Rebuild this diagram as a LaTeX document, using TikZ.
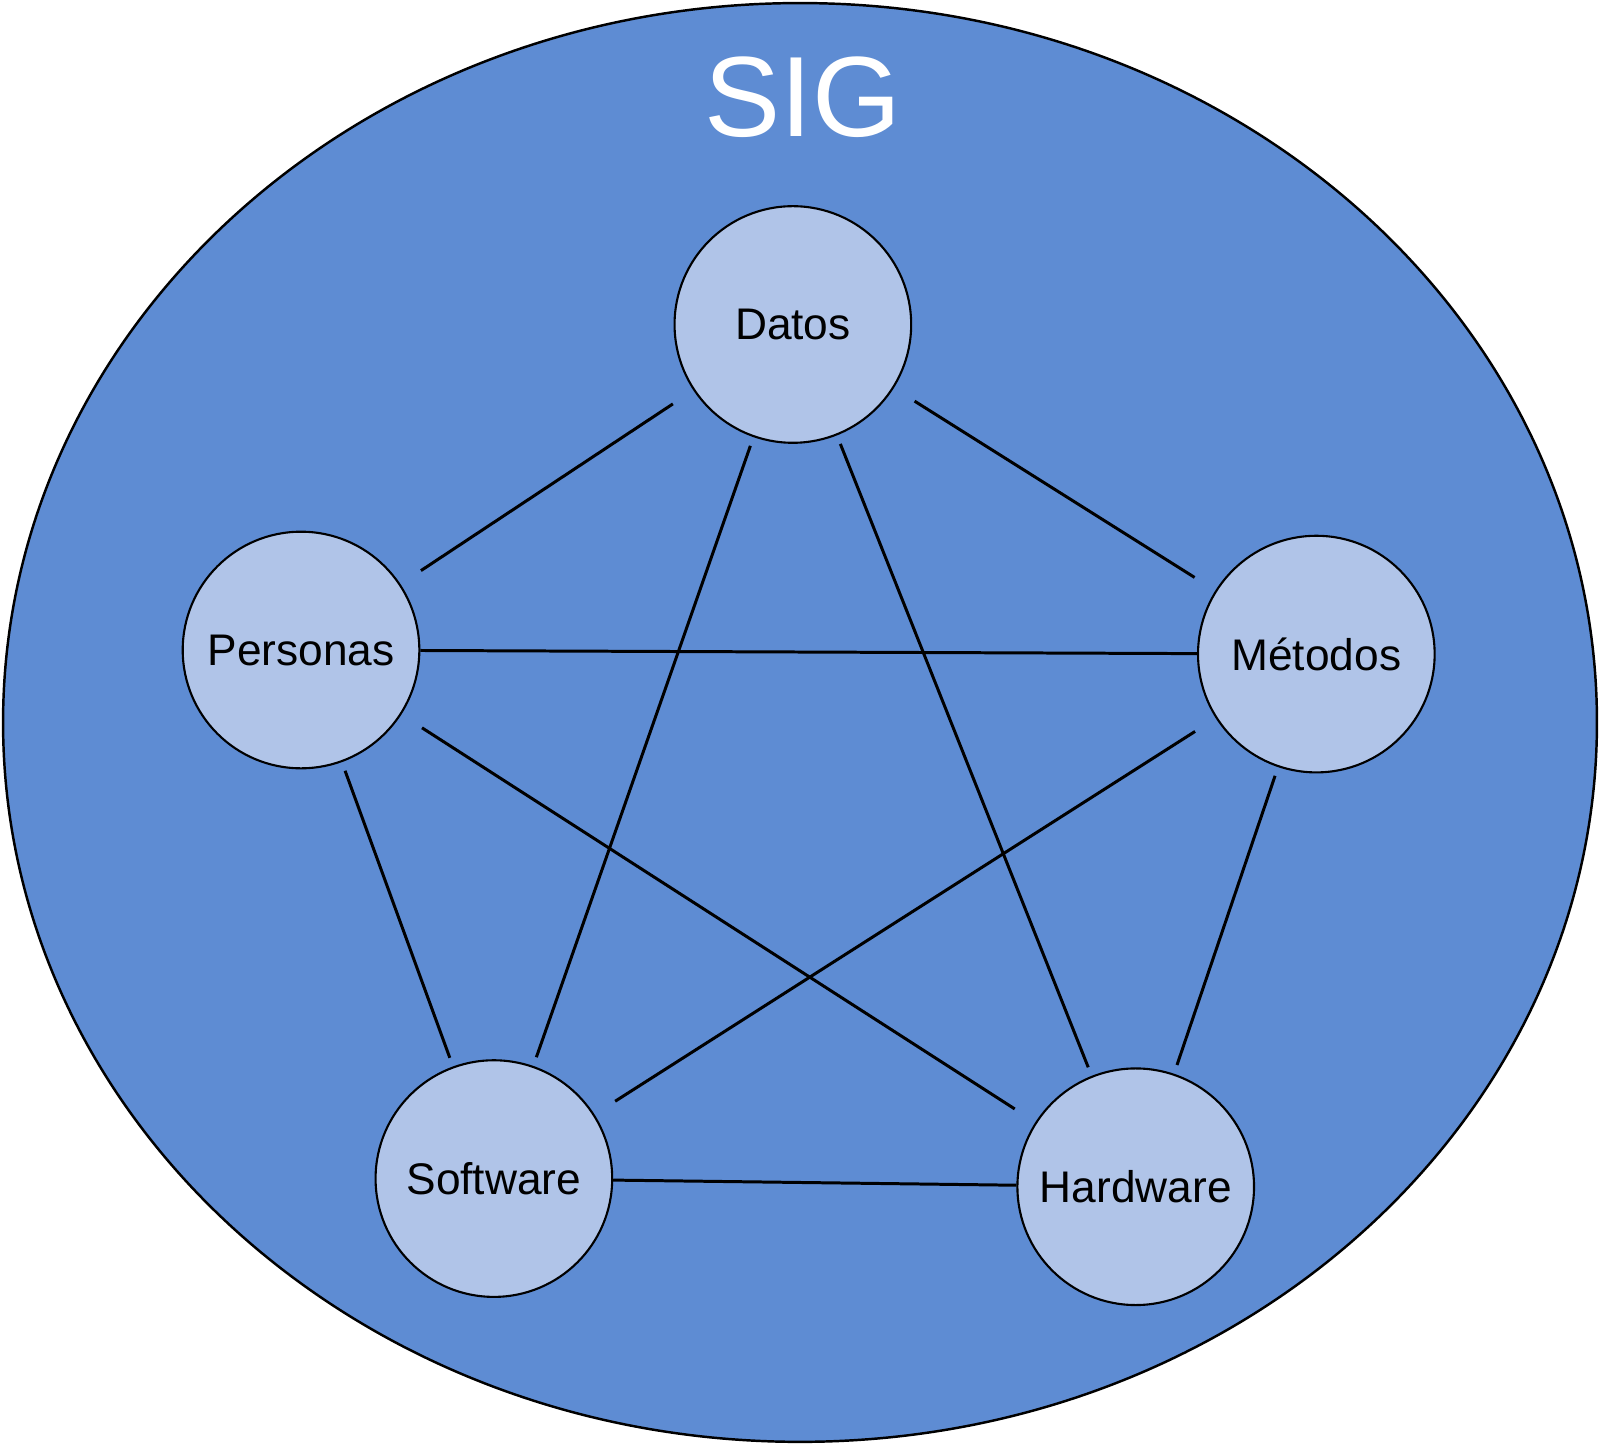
\documentclass[tikz,border=0pt]{standalone}
\usepackage{fontspec}
\setmainfont{Liberation Sans}
\definecolor{bigblue}{HTML}{5E8CD3}
\definecolor{lightblue}{HTML}{B0C4E8}
\begin{document}
\begin{tikzpicture}[x=0.010204cm,y=-0.010204cm,
  comp/.style={circle,draw=black,line width=0.6pt,fill=lightblue,minimum size=2.367cm,inner sep=0pt,font=\fontsize{12.6}{14}\selectfont},
  link/.style={line width=0.85pt,black},
  gapl/.style={shorten <=0.245cm,shorten >=0.245cm},
  gaps/.style={shorten <=0.092cm,shorten >=0.092cm}]
\useasboundingbox (0,0) rectangle (1568,1416);
\draw[fill=bigblue,line width=0.7pt] (784,708) ellipse [x radius=781, y radius=705];
\node[text=white,font=\fontsize{32.5}{36}\selectfont] (sig) at (787,95) {SIG};
\node[comp] (d) at (777,318) {Datos};
\node[comp] (p) at (295,637) {Personas};
\node[comp] (m) at (1290,641) {Métodos};
\node[comp] (s) at (484,1155) {Software};
\node[comp] (h) at (1113,1163) {Hardware};
\draw[link,gapl] (d) -- (p);
\draw[link,gapl] (d) -- (m);
\draw[link,gaps] (d) -- (s);
\draw[link,gaps] (d) -- (h);
\draw[link] (p) -- (m);
\draw[link,gaps] (p) -- (s);
\draw[link,gapl] (p) -- (h);
\draw[link,gapl] (m) -- (s);
\draw[link,gaps] (m) -- (h);
\draw[link] (s) -- (h);
\end{tikzpicture}
\end{document}
